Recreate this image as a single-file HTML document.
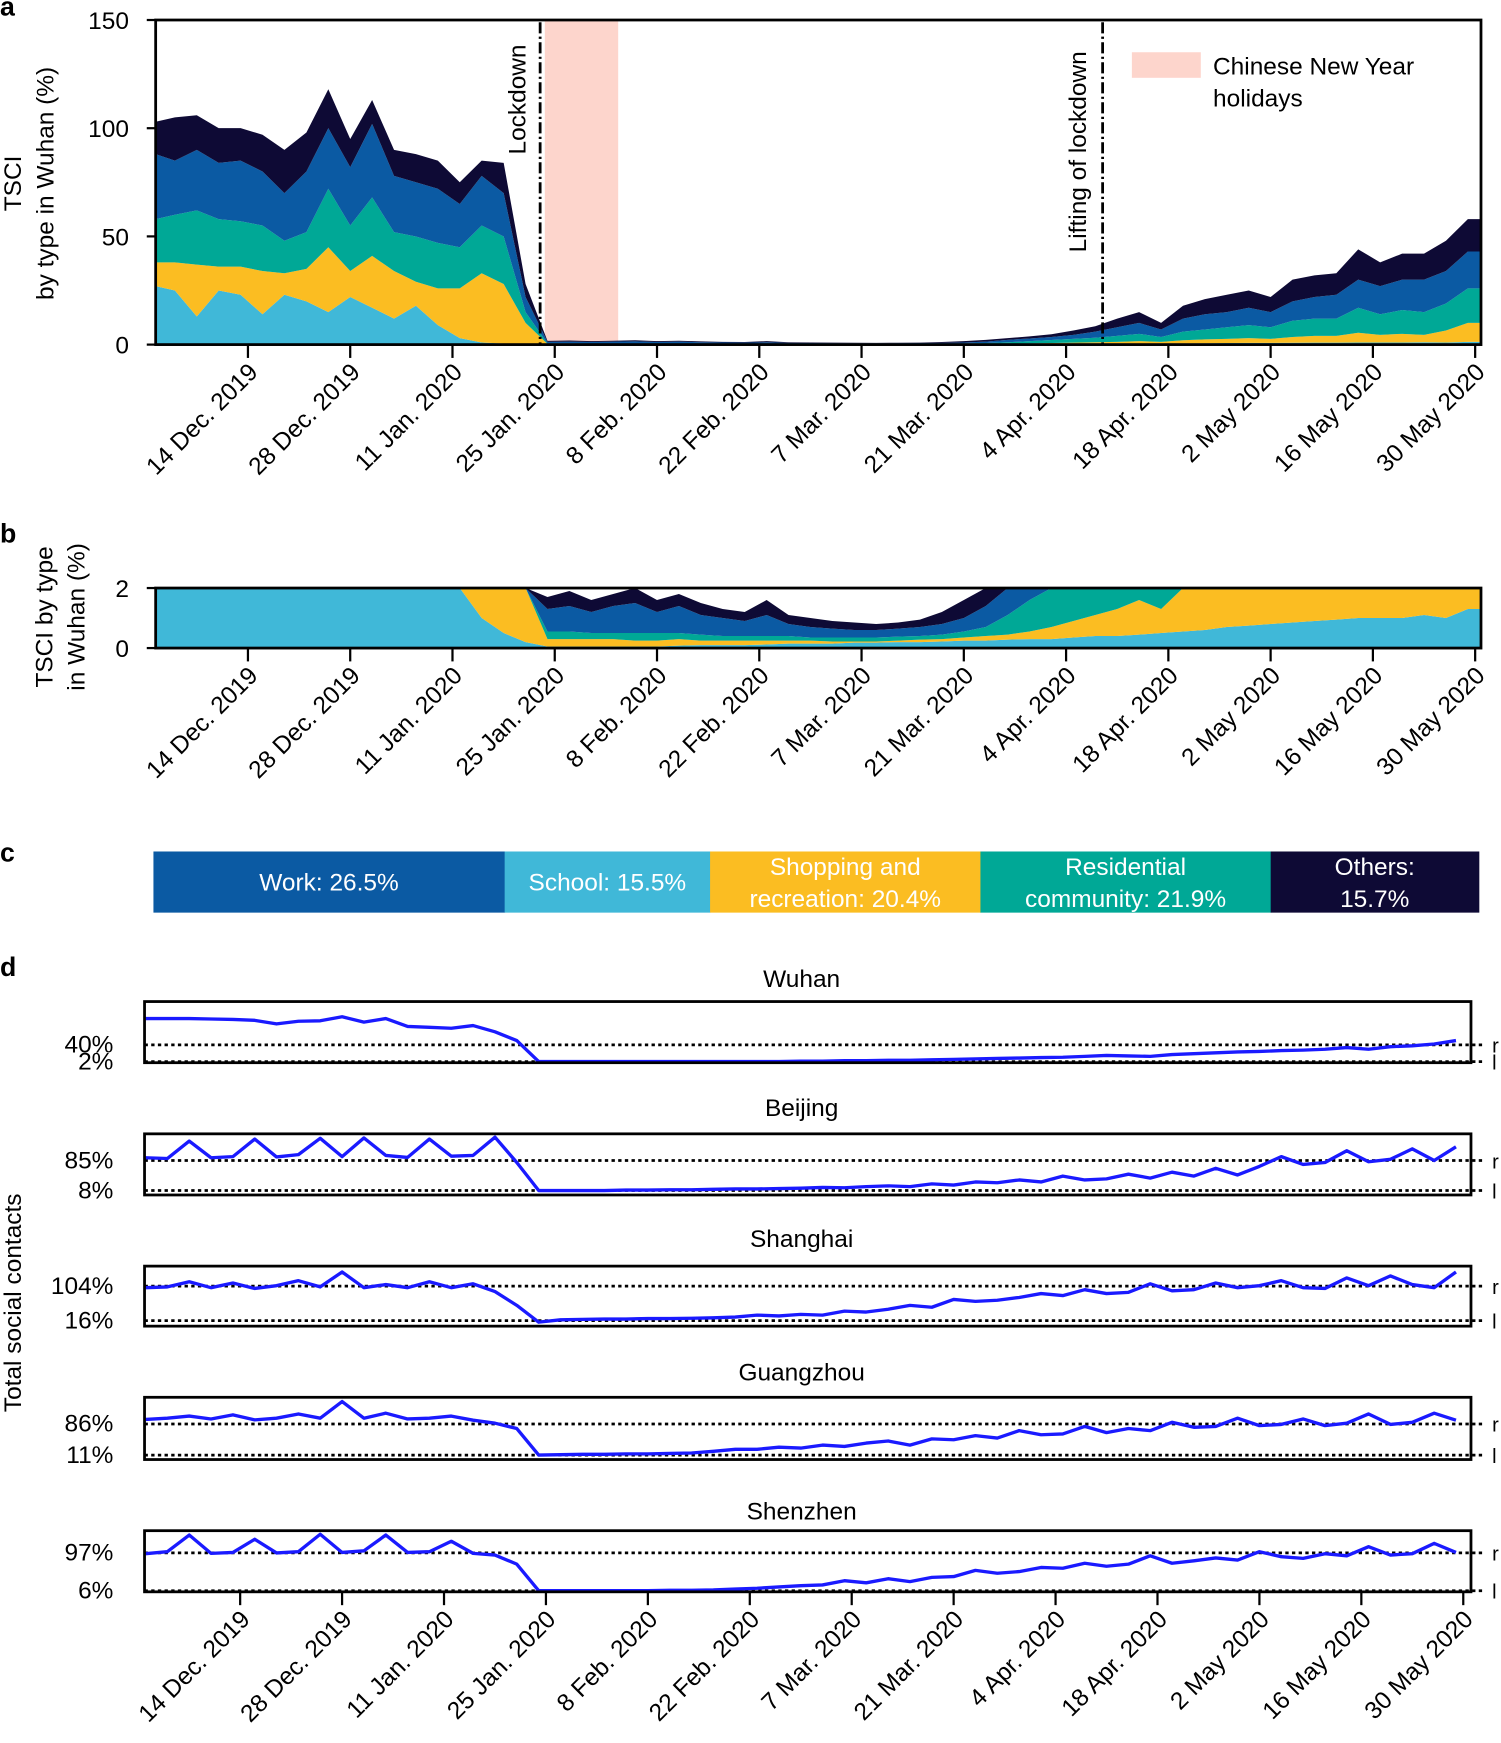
<!DOCTYPE html>
<html><head><meta charset="utf-8">
<style>
html,body{margin:0;padding:0;background:#fff;}
svg{display:block;font-family:"Liberation Sans",sans-serif;}
</style></head>
<body>
<svg id="fig" width="1501" height="1743" viewBox="0 0 1350 1568" preserveAspectRatio="none" xmlns="http://www.w3.org/2000/svg"></svg>
<script>
// ===== Data =====
const tickLabels = ["14 Dec. 2019","28 Dec. 2019","11 Jan. 2020","25 Jan. 2020","8 Feb. 2020","22 Feb. 2020","7 Mar. 2020","21 Mar. 2020","4 Apr. 2020","18 Apr. 2020","2 May 2020","16 May 2020","30 May 2020"];
const tickDays = [13,27,41,55,69,83,97,111,125,139,153,167,181];
const sampleStep = 3; // days between samples, starting at 1 Dec 2019 (day 0)
const layerNames = ["school","shopping","residential","work","others"];
const layerColors = {school:"#40b8d8",shopping:"#fbbd22",residential:"#00a896",work:"#0b5aa3",others:"#0e0a35"};
const school = [27,25,13,25,23,14,23,20,15,22,17,12,18,9,3,1,0.5,0.2,
 .05,.05,.05,.05,.05,.05,.08,.1,.1,.1,.12,.15,.15,.15,.18,.18,.2,.2,.22,.25,.25,.28,.3,.3,.35,.4,.4,.45,.5,.55,.6,.7,.75,.8,.85,.9,.95,1.0,1.0,1.0,1.1,1.0,1.3];
const shopping = [11,13,24,11,13,20,10,15,30,12,24,22,11,17,23,32,27.5,9.8,
 .25,.25,.25,.25,.2,.2,.22,.15,.15,.15,.13,.1,.1,.07,.04,.04,.05,.08,.08,.1,.15,.17,.25,.4,.55,.7,.9,1.15,.8,1.45,1.8,1.9,2.25,1.8,2.65,3.1,3.05,4.5,3.5,4,3.4,5.5,8.7];
const residential = [20,22,25,22,21,21,15,17,27,21,27,18,21,21,19,22,22,5,
 .25,.25,.2,.2,.25,.25,.2,.2,.15,.15,.15,.15,.1,.13,.13,.13,.13,.12,.15,.2,.3,.65,1.05,1.4,1.7,2.1,2.7,3.4,2.2,4,4.6,5.4,6,5.4,7.5,8,8,11.5,9.5,11,10.5,12.5,16];
const work = [30,25,28,26,28,25,22,28,28,27,34,26,25,25,20,23,20,7,
 .75,.85,.7,.9,1.0,.7,.9,.65,.6,.5,.7,.4,.35,.3,.25,.25,.27,.3,.35,.45,.7,1.1,1.2,1.4,1.9,2.8,4,5,3.5,6,7,7,8,7,9,10,11,13,13,14,15,15,17];
const others = [15,20,16,16,15,17,20,18,18,13,11,12,13,13,10,7,14,6,
 .4,.5,.4,.4,.5,.4,.4,.4,.3,.3,.5,.3,.3,.25,.25,.2,.2,.25,.4,.6,.8,.8,1.0,1.3,2.0,2.5,4,5,3,6,7,8,8,7,10,10,10,14,11,12,12,14,15];
const shares = [26.5,15.5,20.4,21.9,15.7];
const shareLabels = [["Work: 26.5%"],["School: 15.5%"],["Shopping and","recreation: 20.4%"],["Residential","community: 21.9%"],["Others:","15.7%"]];
const shareColors = ["#0b5aa3","#40b8d8","#fbbd22","#00a896","#0e0a35"];
const cityNames = ["Wuhan","Beijing","Shanghai","Guangzhou","Shenzhen"];
const cityRef = [40,85,104,86,97];
const cityLow = [2,8,16,11,6];
const wuhan = [100,100,100,99,98,96,88,94,95,104,92,100,82,80,78,84,70,50,
 2,2,2,2,2,2,2,2,2,2,2,2,3,3,4,4,5,5,6,7,8,9,10,11,12,14,16,15,14,18,20,22,24,25,27,28,30,34,30,36,38,42,50];
const beijing = [92,90,135,92,95,140,94,100,142,95,143,98,93,140,96,98,145,80,
 8,8,8,8,9,9,10,10,11,12,12,13,14,16,15,18,20,18,25,22,30,28,35,30,45,35,38,50,40,55,45,65,48,70,95,75,80,110,82,88,115,85,120];
const shanghai = [100,102,115,100,112,98,105,118,102,140,100,108,100,115,100,110,90,55,
 12,18,19,20,20,21,21,22,23,25,30,28,32,30,40,38,45,55,50,70,65,68,75,85,80,95,85,88,110,92,95,112,100,105,118,100,98,125,105,130,108,100,140];
const guangzhou = [97,100,105,98,108,96,100,110,100,140,100,112,98,100,105,95,88,75,
 11,12,13,13,14,14,15,16,20,25,25,30,28,35,32,40,45,35,50,48,58,52,70,60,62,80,65,75,70,90,78,80,100,82,85,98,82,88,110,85,90,112,95];
const shenzhen = [95,100,140,96,98,130,97,100,142,98,102,140,98,100,125,96,92,70,
 6,6,6,6,6,6,7,7,8,10,12,15,18,20,30,25,35,28,38,40,55,48,52,62,60,72,65,70,90,72,78,85,80,100,88,84,95,90,112,92,95,120,98];

// ===== Helpers =====
const NS = "http://www.w3.org/2000/svg";
const svg = document.getElementById("fig");
function mk(tag, attrs, parent){
  const e = document.createElementNS(NS, tag);
  for (const k in attrs) e.setAttribute(k, attrs[k]);
  (parent||svg).appendChild(e);
  return e;
}
function txt(s, attrs, parent){ const t = mk("text", attrs, parent); t.textContent = s; return t; }

const layers = {school, shopping, residential, work, others};
const N = school.length;

function stackedPanel(opts){
  const {L,R,T,B,ymax,panel} = opts;
  const xA = d => 223 + (d-13)*6.57;
  const y = v => B - (Math.min(v,ymax)/ymax)*(B-T);
  const g = mk("g",{});
  
  
  const clipId = "clip-"+panel;
  const cp = mk("clipPath",{id:clipId}, g); mk("rect",{x:L,y:T,width:R-L,height:B-T},cp);
  const area = mk("g",{"clip-path":`url(#${clipId})`}, g);
  let base = new Array(N).fill(0);
  layerNames.forEach(name=>{
    const vals = layers[name];
    const top = base.map((b,i)=>b+vals[i]);
    let pts = [];
    for (let i=0;i<N;i++) pts.push(`${Math.max(L,xA(i*sampleStep)).toFixed(1)},${y(top[i]).toFixed(1)}`);
    pts.push(`${R},${y(top[N-1]).toFixed(1)}`);
    pts.push(`${R},${y(base[N-1]).toFixed(1)}`);
    for (let i=N-1;i>=0;i--) pts.push(`${Math.max(L,xA(i*sampleStep)).toFixed(1)},${y(base[i]).toFixed(1)}`);
    const p = mk("polygon",{points:pts.join(" "),fill:layerColors[name]}, area);
    
    
    base = top;
  });
  return {g, xA, y};
}

// Panel a
const pa = stackedPanel({L:140,R:1332,T:18,B:310,ymax:150,panel:"panel-a"});
const cny = mk("rect",{x:490,y:19,width:66,height:290,fill:"#fdd5cc"});


svg.appendChild(pa.g);
const boxA = mk("rect",{x:140,y:18,width:1192,height:292,fill:"none",stroke:"#000","stroke-width":2.5});


[0,50,100,150].forEach(v=>{
  const t = txt(String(v),{x:116,y:pa.y(v)+8,"text-anchor":"end","font-size":22});
  
  
  mk("line",{x1:132,x2:140,y1:pa.y(v),y2:pa.y(v),stroke:"#000","stroke-width":2});
});
const lockX = pa.xA(53), liftX = pa.xA(130);
[[lockX,"lockdown-line"],[liftX,"lifting-line"]].forEach(([x,n])=>{
  const l = mk("line",{x1:x,x2:x,y1:20,y2:310,stroke:"#000","stroke-width":2.5,"stroke-dasharray":"10,3,2,3"});
  
  
});
let t1 = txt("Lockdown",{x:0,y:0,"font-size":22,transform:`translate(${lockX-13},139) rotate(-90)`});
 
let t2 = txt("Lifting of lockdown",{x:0,y:0,"font-size":22,transform:`translate(${liftX-15},227) rotate(-90)`});
 
const lg = mk("rect",{x:1018,y:47,width:62,height:23,fill:"#fdd5cc"});
 
let lt = txt("Chinese New Year",{x:1091,y:67,"font-size":22});
 
txt("holidays",{x:1091,y:96,"font-size":22});
let ya = txt("TSCI",{x:0,y:0,"font-size":22,"text-anchor":"middle",transform:"translate(19,165) rotate(-90)"});
 
txt("by type in Wuhan (%)",{x:0,y:0,"font-size":22,"text-anchor":"middle",transform:"translate(48,165) rotate(-90)"});
txt("a",{x:0,y:14,"font-size":24,"font-weight":"bold"});

function dateAxis(xf, yAxis, prefix){
  tickDays.forEach((d,i)=>{
    const x = xf(d);
    mk("line",{x1:x,x2:x,y1:yAxis,y2:yAxis+12,stroke:"#000","stroke-width":2});
    const t = txt(tickLabels[i],{x:0,y:0,"font-size":22,"text-anchor":"end",transform:`translate(${x+10},${yAxis+26}) rotate(-45)`});
    
    
  });
}
dateAxis(pa.xA, 310, "panel-a");

// Panel b
const pb = stackedPanel({L:140,R:1332,T:529,B:583,ymax:2,panel:"panel-b"});
svg.appendChild(pb.g);
const boxB = mk("rect",{x:140,y:529,width:1192,height:54,fill:"none",stroke:"#000","stroke-width":2.5});
 
[0,2].forEach(v=>{
  const t = txt(String(v),{x:116,y:pb.y(v)+8,"text-anchor":"end","font-size":22});
   
  mk("line",{x1:132,x2:140,y1:pb.y(v),y2:pb.y(v),stroke:"#000","stroke-width":2});
});
dateAxis(pb.xA, 583, "panel-b");
let yb = txt("TSCI by type",{x:0,y:0,"font-size":22,"text-anchor":"middle",transform:"translate(47,555) rotate(-90)"});
 
txt("in Wuhan (%)",{x:0,y:0,"font-size":22,"text-anchor":"middle",transform:"translate(76,555) rotate(-90)"});
txt("b",{x:0,y:488,"font-size":24,"font-weight":"bold"});

// Panel c
txt("c",{x:0,y:775,"font-size":24,"font-weight":"bold"});
{
  const L=138, W=1192; let x=L;
  const tot = shares.reduce((a,b)=>a+b,0);
  shares.forEach((s,i)=>{
    const w = s/tot*W;
    const r = mk("rect",{x:x,y:766,width:w+0.5,height:55,fill:shareColors[i]});
     
    const lines = shareLabels[i];
    lines.forEach((ln,j)=>{
      const yy = lines.length===1 ? 801 : 787 + j*29;
      const t = txt(ln,{x:x+w/2,y:yy,"font-size":22,"text-anchor":"middle",fill:"#fff"});
       
    });
    x += w;
  });
}

// Panel d
txt("d",{x:0,y:878,"font-size":24,"font-weight":"bold"});
const cities = [wuhan,beijing,shanghai,guangzhou,shenzhen];
const boxes = [[901,956,940,955,880],[1020,1075,1044,1071,996],[1139,1193,1157,1188,1114],[1257,1313,1281,1309,1234],[1377,1432,1397,1431,1359]];
const xD = d => 216 + (d-13)*6.548;
cities.forEach((vals,c)=>{
  const [T,B,yr,yl,ty] = boxes[c];
  const ref = cityRef[c], low = cityLow[c];
  const y = v => yl - (v-low)/(ref-low)*(yl-yr);
  const g = mk("g",{});
  
  
  const tt = txt(cityNames[c],{x:721,y:ty+8,"font-size":22,"text-anchor":"middle"},g);
   
  [[yr,ref+"%","r"],[yl,low+"%","l"]].forEach(([yy,lab,s])=>{
    mk("line",{x1:130,x2:1333,y1:yy,y2:yy,stroke:"#000","stroke-width":2.5,"stroke-dasharray":"3,3"},g);
    const t = txt(lab,{x:102,y:yy+7,"font-size":22,"text-anchor":"end"},g);
     
    txt(s,{x:1342,y:yy+7,"font-size":18},g);
  });
  const pts = vals.map((v,i)=>`${Math.max(131,xD(i*sampleStep)).toFixed(1)},${Math.max(T+2,y(v)).toFixed(1)}`);
  const pl = mk("polyline",{points:pts.join(" "),fill:"none",stroke:"#1a1aff","stroke-width":3,"stroke-linejoin":"round"},g);
   
  mk("rect",{x:130,y:T,width:1193,height:B-T,fill:"none",stroke:"#000","stroke-width":2.5},g);
});
dateAxis(xD, 1432, "panel-d");
let yd = txt("Total social contacts",{x:0,y:0,"font-size":22,"text-anchor":"middle",transform:"translate(19,1172) rotate(-90)"});
 
</script>
</body></html>
